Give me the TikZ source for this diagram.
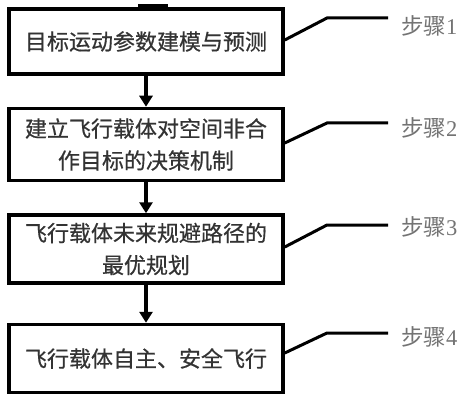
\documentclass[tikz,border=0pt]{standalone}
\usepackage{fontspec}
\newfontfamily\cjk[FakeBold=0.6]{Noto Sans CJK SC}
\newfontfamily\cjklab{Noto Sans CJK SC}
\newfontfamily\digitfont{Liberation Serif}
\usetikzlibrary{arrows.meta}
\begin{document}
\begin{tikzpicture}[x=1pt,y=-1pt,
  stepbox/.style={draw=black,line width=3.5pt,minimum width=274pt,inner sep=0pt,align=center,
    font=\cjk\fontsize{22}{32}\selectfont,text=black!80},
  steplabel/.style={anchor=west,inner sep=0pt,text=black!55,font=\cjklab\fontsize{22.5}{26}\selectfont},
  leader/.style={line width=3pt},
  flow/.style={line width=3.5pt,-{Triangle[length=11pt,width=13pt]}}]
\useasboundingbox (0,0) rectangle (474,401);
\node[stepbox,minimum height=65pt] (b1) at (146,41.5) {目标运动参数建模与预测};
\node[stepbox,minimum height=72pt] (b2) at (146,144.5) {建立飞行载体对空间非合\\作目标的决策机制};
\node[stepbox,minimum height=68pt] (b3) at (146,249) {飞行载体未来规避路径的\\最优规划};
\node[stepbox,minimum height=68pt] (b4) at (146,358.5) {飞行载体自主、安全飞行};
\draw[line width=3pt] (138,5.5) coordinate (t1) -- (168,5.5) coordinate (t2);
\draw[flow] (b1.south) -- (b2.north);
\draw[flow] (b2.south) -- (b3.north);
\draw[flow] (b3.south) -- (b4.north);
\node[steplabel] (l1) at (401,26) {步骤{\digitfont 1}};
\node[steplabel] (l2) at (401,128) {步骤{\digitfont 2}};
\node[steplabel] (l3) at (401,227) {步骤{\digitfont 3}};
\node[steplabel] (l4) at (401,337) {步骤{\digitfont 4}};
\coordinate (k1) at (327,18); \coordinate (e1) at (388,18);
\coordinate (k2) at (327,123); \coordinate (e2) at (388,123);
\coordinate (k3) at (327,225); \coordinate (e3) at (388,225);
\coordinate (k4) at (327,333); \coordinate (e4) at (388,333);
\draw[leader] (b1.east |- 0,40) -- (k1) -- (e1);
\draw[leader] (b2.east |- 0,143) -- (k2) -- (e2);
\draw[leader] (b3.east |- 0,247) -- (k3) -- (e3);
\draw[leader] (b4.east |- 0,353) -- (k4) -- (e4);
\end{tikzpicture}
\end{document}
